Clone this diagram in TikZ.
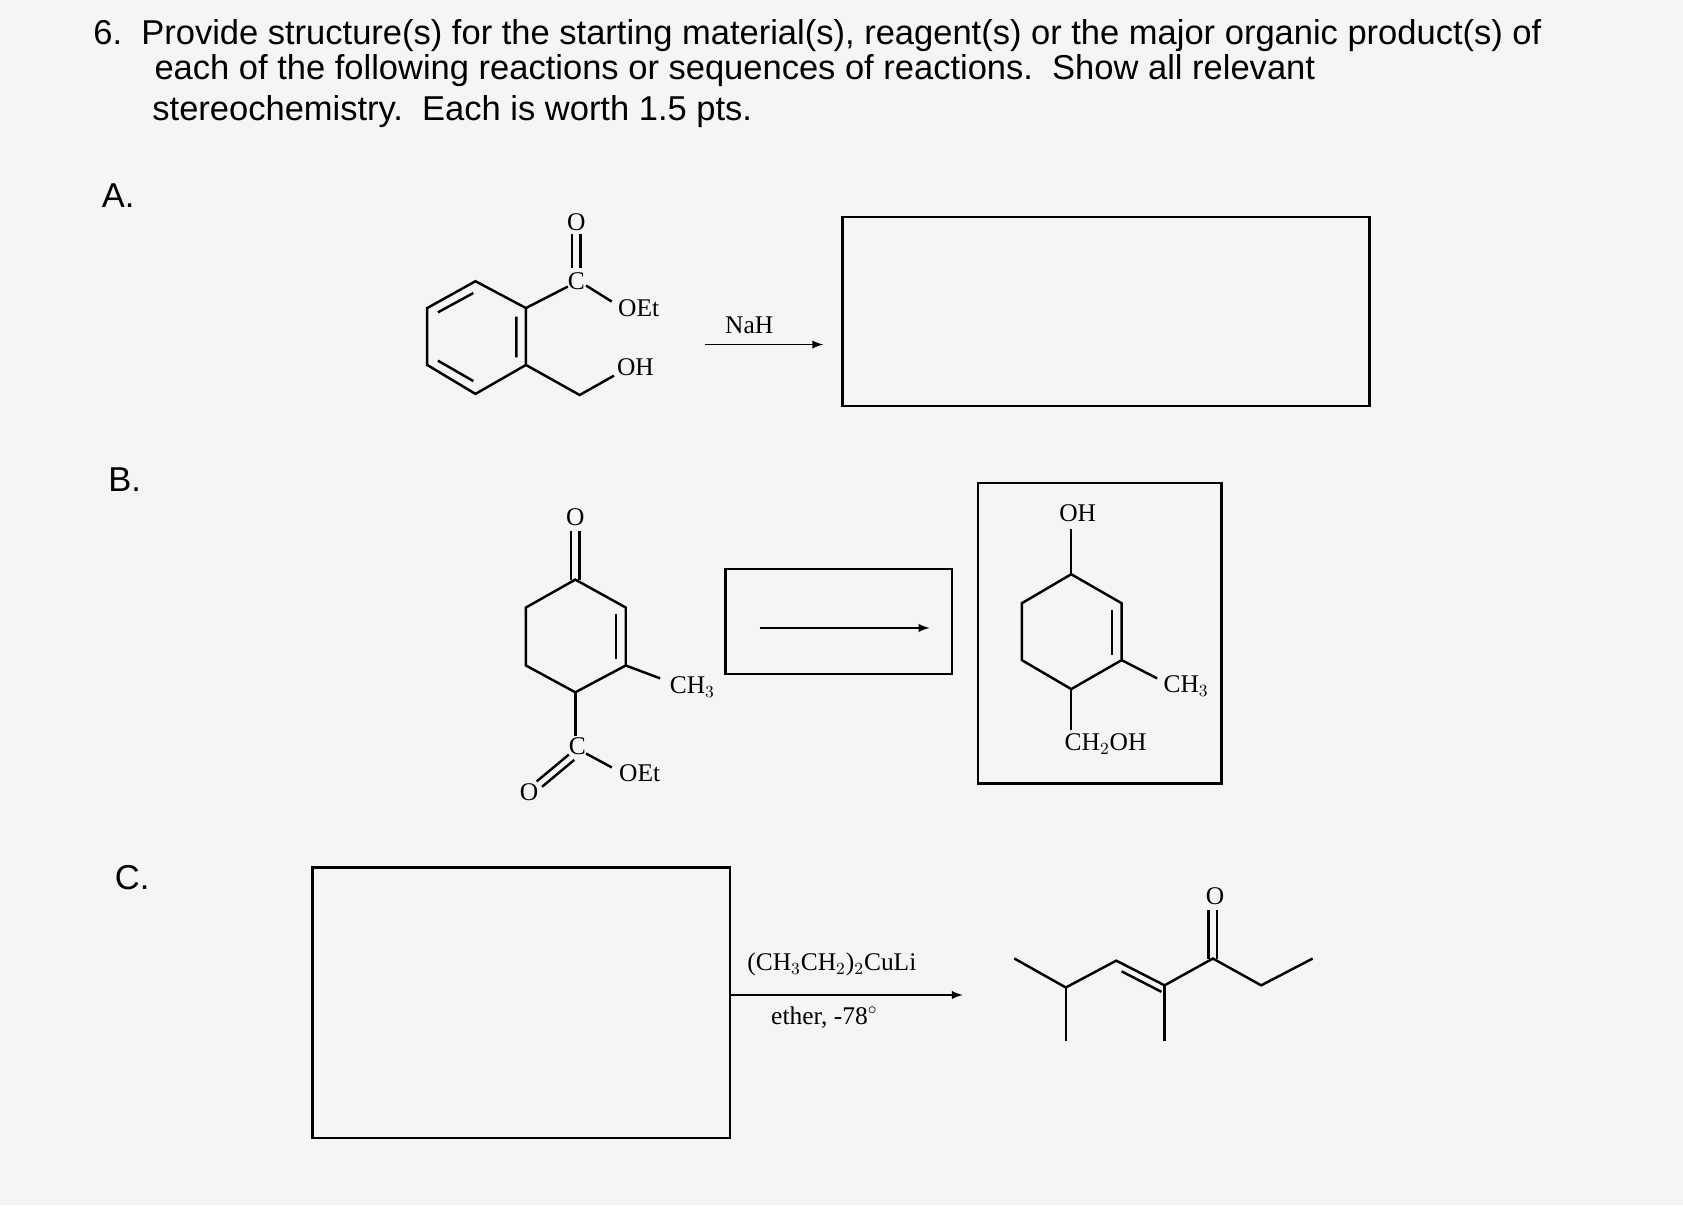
\documentclass[tikz,border=0pt]{standalone}
\usepackage{fontspec}
\setmainfont{Liberation Serif}
\newfontfamily\hd{Liberation Sans}
\begin{document}
\begin{tikzpicture}[x=0.02cm,y=-0.02cm,line width=1.3pt,
 hdt/.style={anchor=west,font=\hd\fontsize{18.3}{22}\selectfont},
 ch/.style={font=\fontsize{13.5}{15}\selectfont,inner sep=1pt},
 boxx/.style={draw,line width=1.3pt}]
\useasboundingbox[fill=gray!8] (0,0) rectangle (1568,1123);
\node[hdt] (h1) at (80,33) {6.\ \ Provide structure(s) for the starting material(s), reagent(s) or the major organic product(s) of};
\node[hdt] (h2) at (137,66) {each of the following reactions or sequences of reactions.\ \ Show all relevant};
\node[hdt] (h3) at (135,104) {stereochemistry.\ \ Each is worth 1.5 pts.};
\node[hdt] (la) at (88,182) {A.};
\node[hdt] (lb) at (94,447) {B.};
\node[hdt] (lc) at (100,818) {C.};
% A
\draw (398,287)--(443,262)--(490,287)--(490,340)--(443,367)--(398,340)--cycle;
\draw (408,291)--(441,273) (481,295)--(481,333) (408,336)--(441,355);
\node[ch] (ca) at (537,262) {C};
\node[ch] (oa) at (537,207) {O};
\draw (533,218)--(533,250) (541,218)--(541,250);
\draw (490,287)--(529,267);
\draw (546,266)--(570,281);
\node[ch] (oet) at (595,287) {OEt};
\node[ch] (oh) at (592,342) {OH};
\draw (490,340)--(540,368)--(572,350);
\node[ch] (nah) at (698,303) {NaH};
\coordinate (a1) at (657,321); \coordinate (a2) at (767,321);
\draw[-latex,line width=1pt] (a1)--(a2);
\draw[boxx] (785,202) rectangle (1276,378);
% B
\node[ch] (ob) at (536,482) {O};
\draw (532,495)--(532,540) (540,495)--(540,540);
\draw (536,540)--(583,566)--(583,620)--(536,645)--(490,620)--(490,566)--cycle;
\draw (574,572)--(574,614);
\draw (583,620)--(615,632);
\node[ch] (ch3b) at (645,640) {CH$_3$};
\draw (536,645)--(536,686);
\node[ch] (cb) at (538,695) {C};
\draw (530,703)--(500,728) (535,708)--(505,733);
\node[ch] (ob2) at (493,738) {O};
\draw (546,702)--(570,715);
\node[ch] (oetb) at (596,720) {OEt};
\draw[boxx] (676,530) rectangle (887,628);
\coordinate (b1) at (708,585); \coordinate (b2) at (866,585);
\draw[-latex,line width=1pt] (b1)--(b2);
\draw[boxx] (911,450) rectangle (1138,730);
\node[ch] (ohp) at (1004,478) {OH};
\draw (998,493)--(998,535);
\draw (998,535)--(1045,562)--(1045,615)--(998,642)--(952,615)--(952,562)--cycle;
\draw (1036,568)--(1036,610);
\draw (1045,615)--(1078,632);
\node[ch] (ch3p) at (1105,639) {CH$_3$};
\draw (998,642)--(998,680);
\node[ch] (ch2oh) at (1030,693) {CH$_2$OH};
% C
\draw[boxx] (291,808) rectangle (680,1060);
\node[ch] (cuprate) at (775,898) {(CH$_3$CH$_2$)$_2$CuLi};
\node[ch] (eth) at (768,948) {ether, -78$^\circ$};
\coordinate (c1) at (680,927); \coordinate (c2) at (897,927);
\draw[-latex,line width=1pt] (c1)--(c2);
\draw (945,893)--(993,920)--(1040,895)--(1085,918)--(1130,893)--(1175,918)--(1223,893);
\draw (1045,905)--(1082,924);
\draw (993,920)--(993,970) (1085,918)--(1085,970);
\draw (1126,893)--(1126,848) (1134,893)--(1134,848);
\node[ch] (oc) at (1132,835) {O};
\end{tikzpicture}
\end{document}
